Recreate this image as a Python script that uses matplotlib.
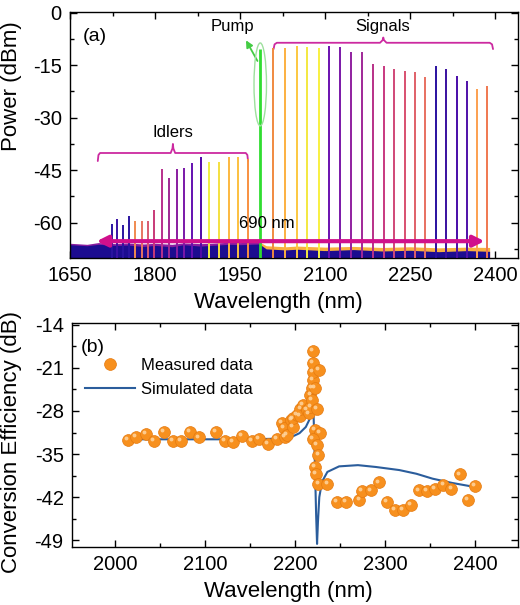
import matplotlib
matplotlib.use("Agg")
import matplotlib.pyplot as plt
from matplotlib.patches import Ellipse
from matplotlib.lines import Line2D
from matplotlib.ticker import MultipleLocator
from matplotlib import transforms

plt.rcParams['font.family'] = ['Liberation Sans', 'DejaVu Sans']
plt.rcParams['axes.unicode_minus'] = False

# ---- panel (a): spectrum peaks ----
idler_wl = [1723.5, 1733.5, 1744, 1754, 1764.7, 1776.5, 1787.6, 1798.8, 1811.8, 1824.7,
            1838.2, 1851.7, 1865.9, 1881.2, 1895.9, 1912.9, 1930, 1945.9, 1964.7]
idler_pw = [-60.5, -59.1, -60.7, -58.1, -59.6, -59.6, -59.6, -56.5, -44.6, -47.2,
            -44.6, -44.3, -43.1, -41.2, -42.6, -42.6, -41.2, -41.2, -41.9]
idler_col = ['#2a14a0', '#3a12a4', '#2a14a0', '#2a14a0', '#f08a50', '#e87560', '#d85a70',
             '#c83a78', '#b8308c', '#a02894', '#8a1ca0', '#7a18a8', '#6410b0', '#5008a8',
             '#f0f040', '#f4e040', '#fcb840', '#fcc040', '#f89040']

pump_wl = 1985.9
pump_pw = -10.5

signal_wl = [2008.8, 2030, 2050.6, 2068.8, 2089.4, 2107.6, 2127, 2145.9, 2165.3, 2184.1,
             2202.9, 2221.8, 2240.6, 2258.2, 2276.5, 2295.1, 2313.5, 2332.3, 2350, 2367.4, 2385]
signal_pw = [-10.2, -10.2, -9.6, -9.8, -10.2, -9.6, -9.8, -11.2, -11.2, -14.8,
             -15.3, -16.2, -16.7, -16.9, -18.4, -15.3, -16.2, -18.0, -19.6, -21.7, -21.0]
signal_col = ['#f08a40', '#fcb040', '#fcc840', '#f4e840', '#f8f040', '#6a10b0', '#7a18a8',
              '#9020a0', '#a02898', '#b83088', '#c83880', '#d04878', '#d85070', '#e06068',
              '#e87060', '#2a10a0', '#3a10a0', '#4a0ca8', '#5010a8', '#fca050', '#f07850']

# noise floor levels
floor_wl = [1650, 1680, 1700, 1730, 1750, 1780, 1800, 1830, 1850, 1880, 1900, 1930, 1950, 1984,
            1996, 2030, 2050, 2100, 2150, 2200, 2250, 2300, 2350, 2390]
floor_top = [-65.9, -66.2, -65.7, -66.0, -65.8, -66.1, -65.9, -66.2, -65.8, -66.0, -65.9, -65.6, -65.7, -65.5,
             -66.6, -66.9, -66.7, -67.0, -66.8, -67.1, -66.9, -67.2, -67.0, -67.1]
floor_low = [-66.3, -66.6, -66.2, -66.5, -66.4, -66.8, -66.5, -66.9, -66.3, -66.7, -66.5, -66.2, -66.3, -66.1,
             -67.5, -67.8, -67.6, -68.0, -67.7, -68.1, -67.9, -68.3, -68.0, -68.2]

# ---- panel (b): conversion efficiency ----
meas_wl = [2014, 2023, 2034, 2043, 2054, 2064, 2073, 2083, 2093, 2112, 2122, 2131, 2141,
           2152, 2160, 2170, 2180, 2185, 2188, 2189, 2191, 2196, 2198, 2198, 2202, 2205,
           2206, 2209, 2213, 2215, 2217, 2217, 2218.5, 2218.5, 2219.5, 2220, 2219.5, 2220,
           2227, 2222, 2224, 2222, 2228, 2220, 2224, 2226, 2222, 2223, 2226, 2236, 2247,
           2257, 2271.5, 2274, 2284, 2293, 2302, 2311, 2320, 2329, 2338, 2347, 2356, 2365,
           2374, 2383, 2392, 2400]
meas_ce = [-32.7, -32.2, -31.7, -32.8, -31.4, -32.9, -32.9, -31.4, -32.3, -31.4, -32.8, -33.0, -32.0,
           -32.9, -32.6, -33.3, -32.6, -30.0, -30.8, -32.2, -31.9, -29.5, -30.6, -29.2, -28.7, -28.8,
           -27.6, -27.0, -27.8, -28.4, -27.3, -25.4, -26.2, -24.3, -23.0, -21.6, -20.2, -18.2,
           -21.3, -24.3, -27.6, -31.1, -31.6, -32.5, -33.5, -35.2, -37.1, -38.2, -39.8, -39.8, -42.8,
           -42.8, -42.4, -41.0, -40.9, -39.6, -42.8, -44.1, -44.1, -43.3, -40.9, -41.0, -40.7, -40.0,
           -40.6, -38.3, -42.4, -40.2]

sim_wl = [2015, 2050, 2100, 2150, 2180, 2195, 2205, 2212, 2216, 2218, 2219.5, 2220.5, 2221.5,
          2222.5, 2223.5, 2224.5, 2225.5, 2227, 2230, 2236, 2249, 2270, 2290, 2316, 2335, 2353,
          2375, 2398]
sim_ce = [-32.6, -32.6, -32.6, -32.6, -32.5, -32.3, -31.6, -30.6, -29.4, -28.0, -26.2, -28.0, -33.0,
          -39.0, -45.0, -49.6, -46.0, -42.0, -39.5, -37.9, -37.0, -36.8, -37.1, -37.6, -38.2, -39.0,
          -39.7, -40.3]


def brace(ax, x0, x1, y, tip, hook, color):
    xc = (x0 + x1) / 2
    dx = (x1 - x0) * 0.015
    xs = [x0, x0 + dx * 0.3, x0 + dx, xc - dx, xc - dx * 0.2, xc, xc + dx * 0.2, xc + dx,
          x1 - dx, x1 - dx * 0.3, x1]
    ys = [y - hook, y - hook * 0.25, y, y, y + tip * 0.5, y + tip, y + tip * 0.5, y,
          y, y - hook * 0.25, y - hook]
    ax.plot(xs, ys, color=color, lw=1.3, solid_capstyle='round')


fig = plt.figure(figsize=(5.2, 6.05), dpi=100)
ax1 = fig.add_axes([0.1346, 0.5736, 0.8615, 0.4066])
ax2 = fig.add_axes([0.1385, 0.0959, 0.8577, 0.3702])

# noise floor
ax1.fill_between(floor_wl[:14], -71, floor_top[:14], color='#8a1ca0', lw=0, zorder=1)
ax1.fill_between(floor_wl[13:], -71, floor_top[13:], color='#f8b040', lw=0, zorder=1)
ax1.fill_between(floor_wl, -71, floor_low, color='#1c0c90', lw=0, zorder=2)

ax1.vlines(idler_wl, -70.5, idler_pw, colors=idler_col, lw=1.4, zorder=3)
ax1.vlines(signal_wl, -70.5, signal_pw, colors=signal_col, lw=1.4, zorder=3)
ax1.vlines([pump_wl], -70.5, [pump_pw], colors='#30dd30', lw=2.0, zorder=4)

ax1.add_patch(Ellipse((1985.5, -20.5), 22, 23.7, fc='none', ec='#9ee09e', lw=1, zorder=5))
ax1.annotate('', xy=(1958, -7.2), xytext=(1983, -14.5),
             arrowprops=dict(arrowstyle='-|>', color='#44cc44', lw=1.3, mutation_scale=10))
ax1.annotate('', xy=(1697, -65.3), xytext=(2381, -65.3),
             arrowprops=dict(arrowstyle='<|-|>', color='#d0108c', lw=3, mutation_scale=16,
                             shrinkA=0, shrinkB=0), zorder=6)

brace(ax1, 1699, 1964, -40.1, 2.6, 2.3, '#cc2aa0')
brace(ax1, 2009, 2396, -8.6, 1.5, 1.8, '#cc2aa0')

ax1.text(1694, -6.7, '(a)', fontsize=14, ha='center', va='center')
ax1.text(1936, -3.9, 'Pump', fontsize=12, ha='center', va='center')
ax1.text(2202, -3.9, 'Signals', fontsize=12, ha='center', va='center')
ax1.text(1831, -34.1, 'Idlers', fontsize=12, ha='center', va='center')
ax1.text(1997, -60.3, '690 nm', fontsize=12, ha='center', va='center', zorder=7)

ax1.set_xlim(1650, 2440)
ax1.set_ylim(-70.1, 0.2)
ax1.set_xticks([1650, 1800, 1950, 2100, 2250, 2400])
ax1.set_yticks([0, -15, -30, -45, -60])
ax1.xaxis.set_minor_locator(MultipleLocator(75))
ax1.yaxis.set_minor_locator(MultipleLocator(7.5))
ax1.set_xlabel('Wavelength (nm)', fontsize=16)
ax1.set_ylabel('Power (dBm)', fontsize=16)
ax1.xaxis.set_label_coords(0.465, -0.14)
ax1.yaxis.set_label_coords(-0.108, 0.70)

# panel (b)
ax2.plot(sim_wl, sim_ce, color='#2b5d9c', lw=1.5, zorder=2)
ax2.plot(meas_wl, meas_ce, 'o', ms=8.5, color='#f7901e', mec='#e57a10', mew=0.5, zorder=3)
hl = transforms.offset_copy(ax2.transData, fig=fig, x=-1.3, y=1.3, units='points')
ax2.plot(meas_wl, meas_ce, 'o', ms=2.8, color='#ffd9a8', mew=0, alpha=0.8, transform=hl, zorder=4)

handles = [Line2D([], [], ls='none', marker='o', ms=8.5, color='#f7901e', mec='#e57a10', mew=0.5),
           Line2D([], [], color='#2b5d9c', lw=1.5)]
ax2.legend(handles, ['Measured data', 'Simulated data'], loc='upper left',
           bbox_to_anchor=(0.03, 0.845), frameon=False, fontsize=12, borderpad=0,
           borderaxespad=0, handlelength=3.0, handletextpad=0.35, labelspacing=0.55)
ax2.text(1975, -17.6, '(b)', fontsize=14, ha='center', va='center')

ax2.set_xlim(1952, 2448)
ax2.set_ylim(-50.1, -13.7)
ax2.set_xticks([2000, 2100, 2200, 2300, 2400])
ax2.set_yticks([-14, -21, -28, -35, -42, -49])
ax2.xaxis.set_minor_locator(MultipleLocator(50))
ax2.yaxis.set_minor_locator(MultipleLocator(3.5))
ax2.set_xlabel('Wavelength (nm)', fontsize=16)
ax2.set_ylabel('Conversion Efficiency (dB)', fontsize=16)
ax2.xaxis.set_label_coords(0.485, -0.15)
ax2.yaxis.set_label_coords(-0.112, 0.47)

for ax in (ax1, ax2):
    ax.tick_params(which='both', direction='in', top=True, right=True, labelsize=14.5, pad=6)
    ax.tick_params(which='major', length=5, width=1)
    ax.tick_params(which='minor', length=3, width=1)
    for s in ax.spines.values():
        s.set_linewidth(1)

fig.savefig('out.png', dpi=100)
